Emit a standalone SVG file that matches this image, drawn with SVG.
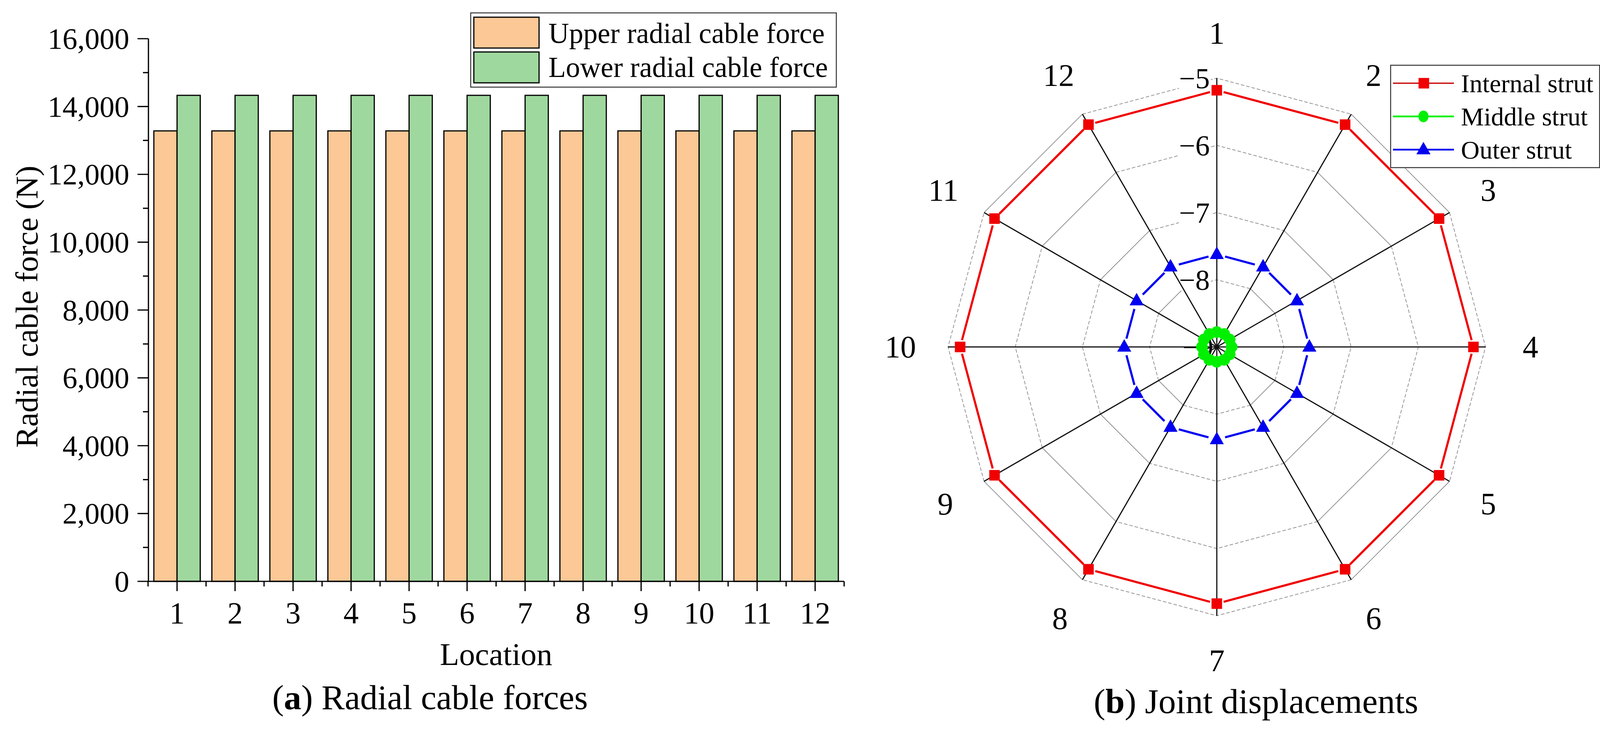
<svg xmlns="http://www.w3.org/2000/svg" width="4173" height="1871" viewBox="0 0 4173 1871">
<defs>
<style>
text{font-family:"Liberation Serif","Times New Roman",serif;fill:#000}
.tk{font-size:76px}
.tx{font-size:78px;text-anchor:middle}
.ttl{font-size:81px}
.cap{font-size:89px}
.lg{font-size:73px}
.pl{font-size:66px}
.sp{font-size:80px;text-anchor:middle}
.rl{font-size:74px;text-anchor:end}
.ax{stroke:#000;stroke-width:3.2;fill:none}
.or{fill:#FBC896;stroke:#000;stroke-width:3}
.gr{fill:#9FD89E;stroke:#000;stroke-width:3}
.rd{stroke:#8c8c8c;stroke-width:1.8;fill:none;stroke-dasharray:9 5}
.rs{stroke:#8c8c8c;stroke-width:1.8;fill:none}
.spk{stroke:#111;stroke-width:3}
.red{stroke:#F00000;stroke-width:5.5;fill:none}
.blu{stroke:#0000F0;stroke-width:5.5;fill:none}
</style>
<rect id="sq" x="-13.5" y="-13.5" width="27" height="27" fill="#F00000"/>
<path id="tri" d="M0,-20 L18,12 L-18,12 Z" fill="#0000F0"/>
<circle id="gc" r="15" fill="#00F000"/>
</defs>
<rect width="4173" height="1871" fill="#fff"/>

<!-- ================= (a) bar chart ================= -->
<g id="bars">
<rect class="or" x="393.85" y="335" width="59.4" height="1153"/><rect class="gr" x="453.25" y="244" width="59.4" height="1244"/>
<rect class="or" x="542.35" y="335" width="59.4" height="1153"/><rect class="gr" x="601.75" y="244" width="59.4" height="1244"/>
<rect class="or" x="690.85" y="335" width="59.4" height="1153"/><rect class="gr" x="750.25" y="244" width="59.4" height="1244"/>
<rect class="or" x="839.35" y="335" width="59.4" height="1153"/><rect class="gr" x="898.75" y="244" width="59.4" height="1244"/>
<rect class="or" x="987.85" y="335" width="59.4" height="1153"/><rect class="gr" x="1047.25" y="244" width="59.4" height="1244"/>
<rect class="or" x="1136.35" y="335" width="59.4" height="1153"/><rect class="gr" x="1195.75" y="244" width="59.4" height="1244"/>
<rect class="or" x="1284.85" y="335" width="59.4" height="1153"/><rect class="gr" x="1344.25" y="244" width="59.4" height="1244"/>
<rect class="or" x="1433.35" y="335" width="59.4" height="1153"/><rect class="gr" x="1492.75" y="244" width="59.4" height="1244"/>
<rect class="or" x="1581.85" y="335" width="59.4" height="1153"/><rect class="gr" x="1641.25" y="244" width="59.4" height="1244"/>
<rect class="or" x="1730.35" y="335" width="59.4" height="1153"/><rect class="gr" x="1789.75" y="244" width="59.4" height="1244"/>
<rect class="or" x="1878.85" y="335" width="59.4" height="1153"/><rect class="gr" x="1938.25" y="244" width="59.4" height="1244"/>
<rect class="or" x="2027.35" y="335" width="59.4" height="1153"/><rect class="gr" x="2086.75" y="244" width="59.4" height="1244"/>
</g>

<g id="axes-a">
<path class="ax" d="M380,99 V1488 H2161"/>
<path class="ax" d="M352,99H380 M352,272.6H380 M352,446.25H380 M352,619.9H380 M352,793.5H380 M352,967.1H380 M352,1140.75H380 M352,1314.4H380 M352,1488H380"/>
<path class="ax" d="M366,185.8H380 M366,359.4H380 M366,533.1H380 M366,706.7H380 M366,880.3H380 M366,1053.9H380 M366,1227.6H380 M366,1401.2H380"/>
<path class="ax" d="M453.25,1488V1513 M601.75,1488V1513 M750.25,1488V1513 M898.75,1488V1513 M1047.25,1488V1513 M1195.75,1488V1513 M1344.25,1488V1513 M1492.75,1488V1513 M1641.25,1488V1513 M1789.75,1488V1513 M1938.25,1488V1513 M2086.75,1488V1513"/>
<path class="ax" d="M379,1488V1501 M527.5,1488V1501 M676,1488V1501 M824.5,1488V1501 M973,1488V1501 M1121.5,1488V1501 M1270,1488V1501 M1418.5,1488V1501 M1567,1488V1501 M1715.5,1488V1501 M1864,1488V1501 M2012.5,1488V1501 M2161,1488V1501"/>
</g>

<g id="ylabels-a" class="tk" text-anchor="end">
<text x="331" y="125">16,000</text>
<text x="331" y="298.6">14,000</text>
<text x="331" y="472.25">12,000</text>
<text x="331" y="645.9">10,000</text>
<text x="331" y="819.5">8,000</text>
<text x="331" y="993.1">6,000</text>
<text x="331" y="1166.75">4,000</text>
<text x="331" y="1340.4">2,000</text>
<text x="331" y="1514">0</text>
</g>

<g id="xlabels-a" class="tx">
<text x="453.25" y="1595">1</text>
<text x="601.75" y="1595">2</text>
<text x="750.25" y="1595">3</text>
<text x="898.75" y="1595">4</text>
<text x="1047.25" y="1595">5</text>
<text x="1195.75" y="1595">6</text>
<text x="1344.25" y="1595">7</text>
<text x="1492.75" y="1595">8</text>
<text x="1641.25" y="1595">9</text>
<text x="1789.75" y="1595">10</text>
<text x="1938.25" y="1595">11</text>
<text x="2086.75" y="1595">12</text>
</g>

<g id="titles-a">
<text class="ttl" transform="translate(96,785) rotate(-90)" text-anchor="middle">Radial cable force (N)</text>
<text class="ttl" x="1270" y="1702" text-anchor="middle">Location</text>
</g>

<g id="legend-a">
<rect x="1205" y="33" width="936" height="190" fill="#fff" stroke="#333" stroke-width="2.5"/>
<rect class="or" x="1213" y="44" width="167" height="79" stroke-width="3.5"/>
<rect class="gr" x="1213" y="133" width="167" height="79" stroke-width="3.5"/>
<text class="lg" x="1404" y="110">Upper radial cable force</text>
<text class="lg" x="1404" y="197">Lower radial cable force</text>
</g>

<g id="caption-a">
<text class="cap" x="697" y="1815">(<tspan font-weight="bold">a</tspan>) Radial cable forces</text>
</g>

<!-- ================= (b) radar chart ================= -->
<g id="grid-b">
<path class="rd" d="M2771,292.2 L3115,200 L3459,292.2 M3710.8,544 L3803,888 L3710.8,1232 M3459,1483.8 L3115,1576 L2771,1483.8 M2519.2,1232 L2427,888 L2519.2,544"/>
<path class="rs" d="M3459,292.2 L3710.8,544 M3710.8,1232 L3459,1483.8 M2771,1483.8 L2519.2,1232 M2519.2,544 L2771,292.2"/>
<path class="rd" d="M2857,441.1 L3115,372 L3373,441.1 M3561.9,630 L3631,888 L3561.9,1146 M3373,1334.9 L3115,1404 L2857,1334.9 M2668.1,1146 L2599,888 L2668.1,630"/>
<path class="rs" d="M3373,441.1 L3561.9,630 M3561.9,1146 L3373,1334.9 M2857,1334.9 L2668.1,1146 M2668.1,630 L2857,441.1"/>
<path class="rd" d="M2943,590.1 L3115,544 L3287,590.1 M3412.9,716 L3459,888 L3412.9,1060 M3287,1185.9 L3115,1232 L2943,1185.9 M2817.1,1060 L2771,888 L2817.1,716"/>
<path class="rs" d="M3287,590.1 L3412.9,716 M3412.9,1060 L3287,1185.9 M2943,1185.9 L2817.1,1060 M2817.1,716 L2943,590.1"/>
<path class="rd" d="M3029,739 L3115,716 L3201,739 M3264,802 L3287,888 L3264,974 M3201,1037 L3115,1060 L3029,1037 M2966,974 L2943,888 L2966,802"/>
<path class="rs" d="M3201,739 L3264,802 M3264,974 L3201,1037 M3029,1037 L2966,974 M2966,802 L3029,739"/>
</g>

<g id="ring-labels">
<rect x="3018" y="170" width="82" height="58" fill="#fff"/>
<rect x="3018" y="342" width="82" height="58" fill="#fff"/>
<rect x="3018" y="514" width="82" height="58" fill="#fff"/>
<rect x="3018" y="686" width="82" height="58" fill="#fff"/>
<text class="rl" x="3097" y="226">−5</text>
<text class="rl" x="3097" y="398">−6</text>
<text class="rl" x="3097" y="570">−7</text>
<text class="rl" x="3097" y="742">−8</text>
<text class="rl" x="3106" y="914">−9</text>
</g>

<g id="spokes">
<path class="spk" d="M3115,888L3115,200 M3115,888L3459,292.2 M3115,888L3710.8,544 M3115,888L3803,888 M3115,888L3710.8,1232 M3115,888L3459,1483.8 M3115,888L3115,1576 M3115,888L2771,1483.8 M3115,888L2519.2,1232 M3115,888L2427,888 M3115,888L2519.2,544 M3115,888L2771,292.2"/>
</g>

<g id="series-internal">
<path class="red" d="M3132.4,235.7L3426.1,314.3 M3456.2,331.7L3671.3,546.8 M3688.7,576.9L3767.3,870.6 M3767.3,905.4L3688.7,1199.1 M3671.3,1229.2L3456.2,1444.3 M3426.1,1461.7L3132.4,1540.3 M3097.6,1540.3L2803.9,1461.7 M2773.8,1444.3L2558.7,1229.2 M2541.3,1199.1L2462.7,905.4 M2462.7,870.6L2541.3,576.9 M2558.7,546.8L2773.8,331.7 M2803.9,314.3L3097.6,235.7"/>
<use href="#sq" x="3115" y="231"/><use href="#sq" x="3443.5" y="319"/><use href="#sq" x="3684" y="559.5"/><use href="#sq" x="3772" y="888"/>
<use href="#sq" x="3684" y="1216.5"/><use href="#sq" x="3443.5" y="1457"/><use href="#sq" x="3115" y="1545"/><use href="#sq" x="2786.5" y="1457"/>
<use href="#sq" x="2546" y="1216.5"/><use href="#sq" x="2458" y="888"/><use href="#sq" x="2546" y="559.5"/><use href="#sq" x="2786.5" y="319"/>
</g>

<g id="series-outer">
<path class="blu" d="M3136.25,656.69L3212.25,677.06 M3249.06,698.31L3304.69,753.94 M3325.94,790.75L3346.31,866.75 M3346.31,909.25L3325.94,985.25 M3304.69,1022.06L3249.06,1077.69 M3212.25,1098.94L3136.25,1119.31 M3093.75,1119.31L3017.75,1098.94 M2980.94,1077.69L2925.31,1022.06 M2904.06,985.25L2883.69,909.25 M2883.69,866.75L2904.06,790.75 M2925.31,753.94L2980.94,698.31 M3017.75,677.06L3093.75,656.69"/>
<use href="#tri" x="3115" y="651"/><use href="#tri" x="3233.5" y="682.75"/><use href="#tri" x="3320.25" y="769.5"/><use href="#tri" x="3352" y="888"/>
<use href="#tri" x="3320.25" y="1006.5"/><use href="#tri" x="3233.5" y="1093.25"/><use href="#tri" x="3115" y="1125"/><use href="#tri" x="2996.5" y="1093.25"/>
<use href="#tri" x="2909.75" y="1006.5"/><use href="#tri" x="2878" y="888"/><use href="#tri" x="2909.75" y="769.5"/><use href="#tri" x="2996.5" y="682.75"/>
</g>

<g id="series-middle">
<use href="#gc" x="3115" y="850"/><use href="#gc" x="3134" y="855.1"/><use href="#gc" x="3147.9" y="869"/><use href="#gc" x="3153" y="888"/>
<use href="#gc" x="3147.9" y="907"/><use href="#gc" x="3134" y="920.9"/><use href="#gc" x="3115" y="926"/><use href="#gc" x="3096" y="920.9"/>
<use href="#gc" x="3082.1" y="907"/><use href="#gc" x="3077" y="888"/><use href="#gc" x="3082.1" y="869"/><use href="#gc" x="3096" y="855.1"/>
</g>

<g id="spoke-labels" class="sp">
<text x="3115" y="112">1</text>
<text x="3516.5" y="220">2</text>
<text x="3810" y="514">3</text>
<text x="3918" y="915">4</text>
<text x="3810" y="1317">5</text>
<text x="3516.5" y="1610">6</text>
<text x="3115" y="1718">7</text>
<text x="2713.5" y="1610">8</text>
<text x="2420" y="1317">9</text>
<text x="2305" y="915">10</text>
<text x="2415" y="514">11</text>
<text x="2710" y="220">12</text>
</g>

<g id="legend-b">
<rect x="3560" y="167" width="535" height="262" fill="#fff" stroke="#333" stroke-width="2.5"/>
<path d="M3566,213H3722" stroke="#C81010" stroke-width="3.5"/>
<use href="#sq" x="3645" y="213"/>
<path d="M3566,298H3722" stroke="#00F000" stroke-width="4.5"/>
<ellipse cx="3644" cy="298" rx="13" ry="15" fill="#00F000"/>
<path d="M3566,383H3722" stroke="#0000F0" stroke-width="4.5"/>
<use href="#tri" x="3644" y="383"/>
<text class="pl" x="3740" y="236">Internal strut</text>
<text class="pl" x="3740" y="321">Middle strut</text>
<text class="pl" x="3740" y="406">Outer strut</text>
</g>

<g id="caption-b">
<text class="cap" x="2800" y="1825" font-size="90">(<tspan font-weight="bold">b</tspan>) Joint displacements</text>
</g>
</svg>
